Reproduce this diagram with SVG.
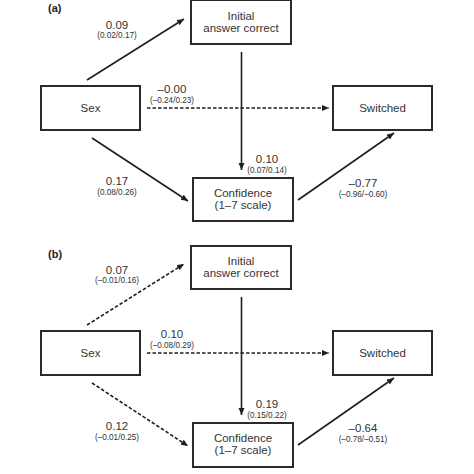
<svg xmlns="http://www.w3.org/2000/svg" width="474" height="474" viewBox="0 0 474 474">
<style>
.box{fill:#fff;stroke:#2a2a2a;stroke-width:2}
.t{font-family:"Liberation Sans",Arial,sans-serif;font-size:11.5px;fill:#333;text-anchor:middle}
.c{font-family:"Liberation Sans",Arial,sans-serif;font-size:11.5px;fill:#333;text-anchor:middle}
.s{font-family:"Liberation Sans",Arial,sans-serif;font-size:8.2px;fill:#333;text-anchor:middle}
.p{font-family:"Liberation Sans",Arial,sans-serif;font-size:11px;font-weight:bold;fill:#222}
.a{fill:none;stroke:#1e1e1e;stroke-width:1.6}
.d{stroke-dasharray:3.5 2}
</style>
<defs>
<marker id="ah" markerUnits="userSpaceOnUse" markerWidth="8" markerHeight="8" refX="7" refY="3" orient="auto">
<path d="M0,0 L7,3 L0,6 Z" fill="#1e1e1e"/>
</marker>
</defs>
<rect width="474" height="474" fill="#fff"/>

<!-- Panel a -->
<text class="p" x="48" y="12">(a)</text>
<g id="connectors-a">
<line class="a" x1="87" y1="80" x2="184" y2="19" marker-end="url(#ah)"/>
<line class="a d" x1="147" y1="108" x2="329" y2="108" marker-end="url(#ah)"/>
<line class="a" x1="241.5" y1="52" x2="241.5" y2="170" marker-end="url(#ah)"/>
<line class="a" x1="92" y1="138" x2="188" y2="201" marker-end="url(#ah)"/>
<line class="a" x1="298" y1="200" x2="394" y2="133" marker-end="url(#ah)"/>
<text class="c" x="117" y="29">0.09</text>
<text class="s" x="117" y="38">(0.02/0.17)</text>
<text class="c" x="172" y="93">–0.00</text>
<text class="s" x="172" y="103">(–0.24/0.23)</text>
<text class="c" x="267" y="163">0.10</text>
<text class="s" x="267" y="173">(0.07/0.14)</text>
<text class="c" x="117" y="185">0.17</text>
<text class="s" x="117" y="195">(0.08/0.26)</text>
<text class="c" x="363" y="187">–0.77</text>
<text class="s" x="363" y="197">(–0.96/–0.60)</text>
</g>
<g id="initial-a">
<rect class="box" x="191" y="0" width="100" height="44"/>
<text class="t" x="241" y="20">Initial</text>
<text class="t" x="241" y="32">answer correct</text>
</g>
<g id="sex-a">
<rect class="box" x="41" y="86" width="99" height="44"/>
<text class="t" x="90.5" y="112">Sex</text>
</g>
<g id="switched-a">
<rect class="box" x="333" y="86" width="99" height="44"/>
<text class="t" x="382.5" y="112">Switched</text>
</g>
<g id="confidence-a">
<rect class="box" x="193" y="178" width="100" height="43"/>
<text class="t" x="243" y="197">Confidence</text>
<text class="t" x="243" y="209">(1–7 scale)</text>
</g>

<!-- Panel b -->
<text class="p" x="48" y="258">(b)</text>
<g id="connectors-b">
<line class="a d" x1="87" y1="325" x2="184" y2="264" marker-end="url(#ah)"/>
<line class="a d" x1="147" y1="353" x2="329" y2="353" marker-end="url(#ah)"/>
<line class="a" x1="241.5" y1="297" x2="241.5" y2="415" marker-end="url(#ah)"/>
<line class="a d" x1="92" y1="383" x2="188" y2="446" marker-end="url(#ah)"/>
<line class="a" x1="298" y1="445" x2="394" y2="378" marker-end="url(#ah)"/>
<text class="c" x="117" y="274">0.07</text>
<text class="s" x="117" y="283">(–0.01/0.16)</text>
<text class="c" x="172" y="338">0.10</text>
<text class="s" x="172" y="348">(–0.08/0.29)</text>
<text class="c" x="267" y="408">0.19</text>
<text class="s" x="267" y="418">(0.15/0.22)</text>
<text class="c" x="117" y="430">0.12</text>
<text class="s" x="117" y="440">(–0.01/0.25)</text>
<text class="c" x="363" y="432">–0.64</text>
<text class="s" x="363" y="442">(–0.78/–0.51)</text>
</g>
<g id="initial-b">
<rect class="box" x="191" y="246" width="100" height="43"/>
<text class="t" x="241" y="265">Initial</text>
<text class="t" x="241" y="277">answer correct</text>
</g>
<g id="sex-b">
<rect class="box" x="41" y="331" width="99" height="44"/>
<text class="t" x="90.5" y="357">Sex</text>
</g>
<g id="switched-b">
<rect class="box" x="333" y="331" width="99" height="44"/>
<text class="t" x="382.5" y="357">Switched</text>
</g>
<g id="confidence-b">
<rect class="box" x="193" y="423" width="100" height="44"/>
<text class="t" x="243" y="442">Confidence</text>
<text class="t" x="243" y="454">(1–7 scale)</text>
</g>
</svg>
